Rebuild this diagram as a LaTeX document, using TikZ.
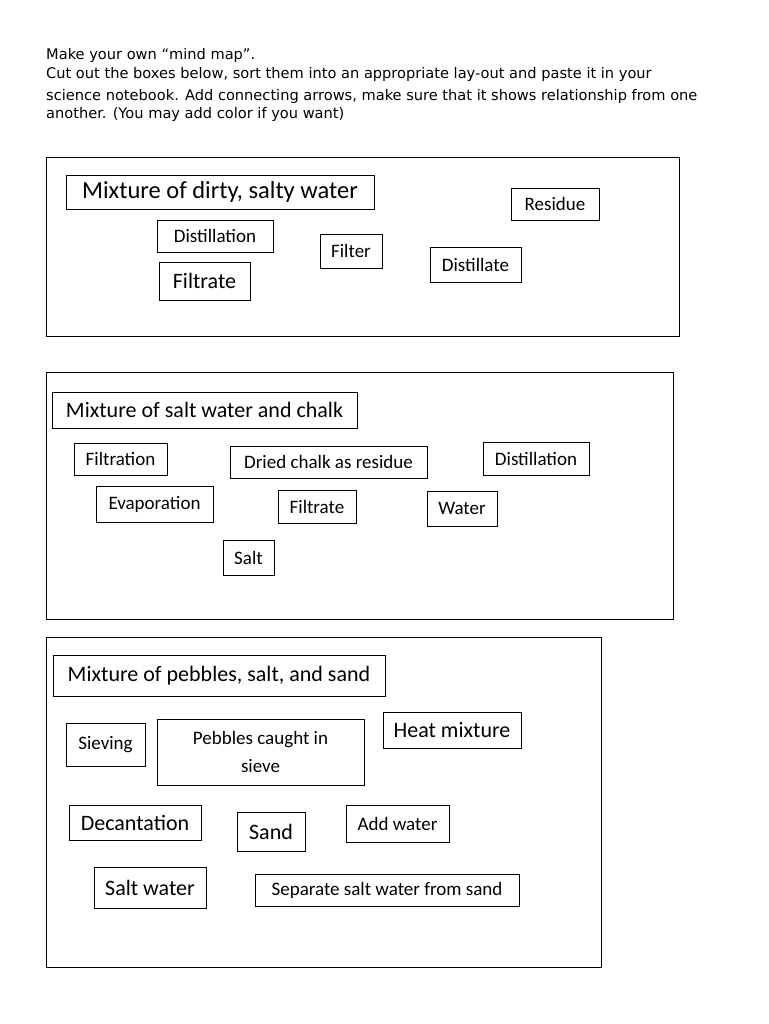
\documentclass[tikz,border=0pt]{standalone}
\usepackage{fontspec}
\setmainfont{Carlito}
\newfontfamily\hdr{DejaVu Sans}
\begin{document}
\begin{tikzpicture}[x=1pt,y=-1pt,
  box/.style={draw,line width=0.8pt,inner sep=0pt,align=center},
  panel/.style={draw,line width=0.8pt},
  hd/.style={anchor=west,inner sep=0pt,font=\hdr\fontsize{14.6}{16}\selectfont}]
\useasboundingbox (0,0) rectangle (768,1024);
\node[hd] (h1) at (46,55) {Make your own “mind map”.};
\node[hd] (h2) at (46,74) {Cut out the boxes below, sort them into an appropriate lay-out and paste it in your};
\node[hd] (h3) at (46,96) {science notebook. Add connecting arrows, make sure that it shows relationship from one};
\node[hd] (h4) at (46,114) {another. (You may add color if you want)};
\draw[panel] (46,157) rectangle (679,336);
\draw[panel] (46,372) rectangle (673,619);
\draw[panel] (46,637) rectangle (601,967);
\newcommand\bx[7]{\node[box,minimum width={#4-#2},minimum height={#5-#3},font=\fontsize{#6}{#6}\selectfont] (#1) at ({(#2+#4)/2},{(#3+#5)/2}) {#7};}
\bx{a1}{66}{175}{374}{209}{24.5}{Mixture of dirty, salty water}
\bx{a2}{511}{188}{599}{220}{19}{Residue}
\bx{a3}{157}{220}{273}{252}{19}{Distillation}
\bx{a4}{320}{234}{382}{268}{19}{Filter}
\bx{a5}{430}{247}{521}{282}{19}{Distillate}
\bx{a6}{159}{262}{250}{300}{22}{Filtrate}
\bx{b1}{52}{392}{357}{428}{22}{Mixture of salt water and chalk}
\bx{b2}{74}{443}{167}{475}{19}{Filtration}
\bx{b3}{230}{446}{427}{478}{19}{Dried chalk as residue}
\bx{b4}{483}{442}{589}{475}{19}{Distillation}
\bx{b5}{96}{486}{213}{522}{19}{Evaporation}
\bx{b6}{278}{490}{356}{523}{19}{Filtrate}
\bx{b7}{427}{491}{497}{526}{19}{Water}
\bx{b8}{223}{540}{274}{575}{19}{Salt}
\bx{c1}{53}{655}{385}{696}{22}{Mixture of pebbles, salt, and sand}
\bx{c2}{66}{723}{145}{766}{19}{Sieving}
\node[box,minimum width=207,minimum height=66,font=\fontsize{19}{28}\selectfont] (c3) at (260.5,752) {Pebbles caught in\\sieve};
\bx{c4}{383}{712}{521}{748}{22}{Heat mixture}
\bx{c5}{69}{805}{201}{840}{22}{Decantation}
\bx{c6}{237}{812}{305}{851}{22}{Sand}
\bx{c7}{346}{805}{449}{842}{19}{Add water}
\bx{c8}{94}{867}{206}{908}{22}{Salt water}
\bx{c9}{255}{874}{519}{906}{19}{Separate salt water from sand}
\end{tikzpicture}
\end{document}
